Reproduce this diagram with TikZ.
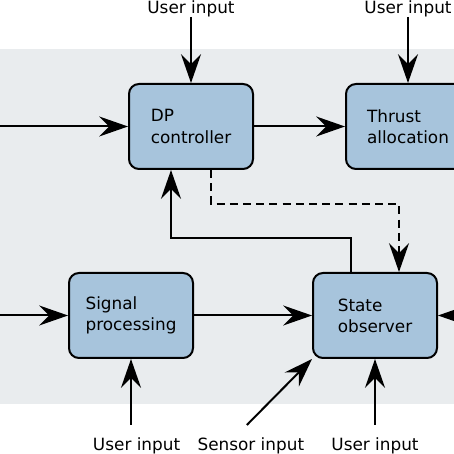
\documentclass[tikz,border=0pt]{standalone}
\usepackage{fontspec}
\setmainfont{DejaVu Sans}
\usepackage{xcolor}
\usepackage{tikz}
\usetikzlibrary{shapes,arrows,positioning,calc,arrows.meta}
\definecolor{blockblue}{RGB}{167,196,220}
\definecolor{panelgray}{RGB}{233,236,238}
\tikzstyle{block} = [rectangle, draw, fill=blockblue, rounded corners=0.25cm, line width=0.05cm, minimum width=3.1cm, minimum height=2.125cm, align=left, font=\fontsize{12}{15}\selectfont]
\tikzstyle{inlabel} = [inner sep=0pt, font=\fontsize{12}{15}\selectfont]
\tikzstyle{arrow} = [-{Stealth[length=0.72cm, width=0.5cm, inset=0.25cm]}, line width=0.05cm]
\tikzstyle{dashedarrow} = [arrow, dash pattern=on 0.2cm off 0.13cm]

\begin{document}
\begin{tikzpicture}[node distance=1cm]
    \useasboundingbox (0,0) rectangle (11.35,11.35);
    \clip (0,0) rectangle (11.35,11.35);

    % Background panel
    \fill[panelgray] (0,1.25) rectangle (11.35,10.125);

    % Controller and allocation
    \node[block] (dp) at (4.775,8.1875) {DP\\controller};
    \node[block, right=2.275cm of dp] (thrust) {Thrust\\allocation};

    % Processing and observer
    \node[block, below=2.55cm of dp, xshift=-1.5cm] (signal) {Signal\\processing};
    \node[block, right=2.95cm of signal] (observer) {State\\observer};

    % Inputs
    \node[inlabel, above=1.65cm of dp] (dpuser) {User input};
    \node[inlabel, above=1.65cm of thrust] (thrustuser) {User input};
    \node[inlabel, below=1.95cm of signal, xshift=0.14cm] (signaluser) {User input};
    \node[inlabel, right=0.42cm of signaluser] (sensor) {Sensor input};
    \node[inlabel, below=1.95cm of observer] (observeruser) {User input};
    \coordinate (dpin) at (0,0 |- dp.west);
    \coordinate (signalin) at (0,0 |- signal.west);
    \coordinate (observerin) at (11.35,0 |- observer.east);
    \coordinate[above left=0.3cm and 0.1cm of sensor.north] (sensorstart);

    % Arrows
    \draw[arrow] (dpin) -- (dp);
    \draw[arrow] (dp) -- (thrust);
    \draw[arrow] (dpuser) -- (dp);
    \draw[arrow] (thrustuser) -- (thrust);
    \draw[arrow] (signalin) -- (signal);
    \draw[arrow] (signal) -- (observer);
    \draw[arrow] (observerin) -- (observer);
    \draw[arrow, shorten <=0.3cm] (signal.south |- signaluser.north) -- (signal.south);
    \draw[arrow, shorten <=0.3cm] (observeruser) -- (observer);
    \draw[arrow] (sensorstart) -- (observer.south west);
    \draw[arrow] ([xshift=-0.6cm]observer.north) -- ++(0,0.85) -| ([xshift=-0.5cm]dp.south);
    \draw[dashedarrow] ([xshift=0.5cm]dp.south) -- ++(0,-0.85) -| ([xshift=0.6cm]observer.north);
\end{tikzpicture}
\end{document}
